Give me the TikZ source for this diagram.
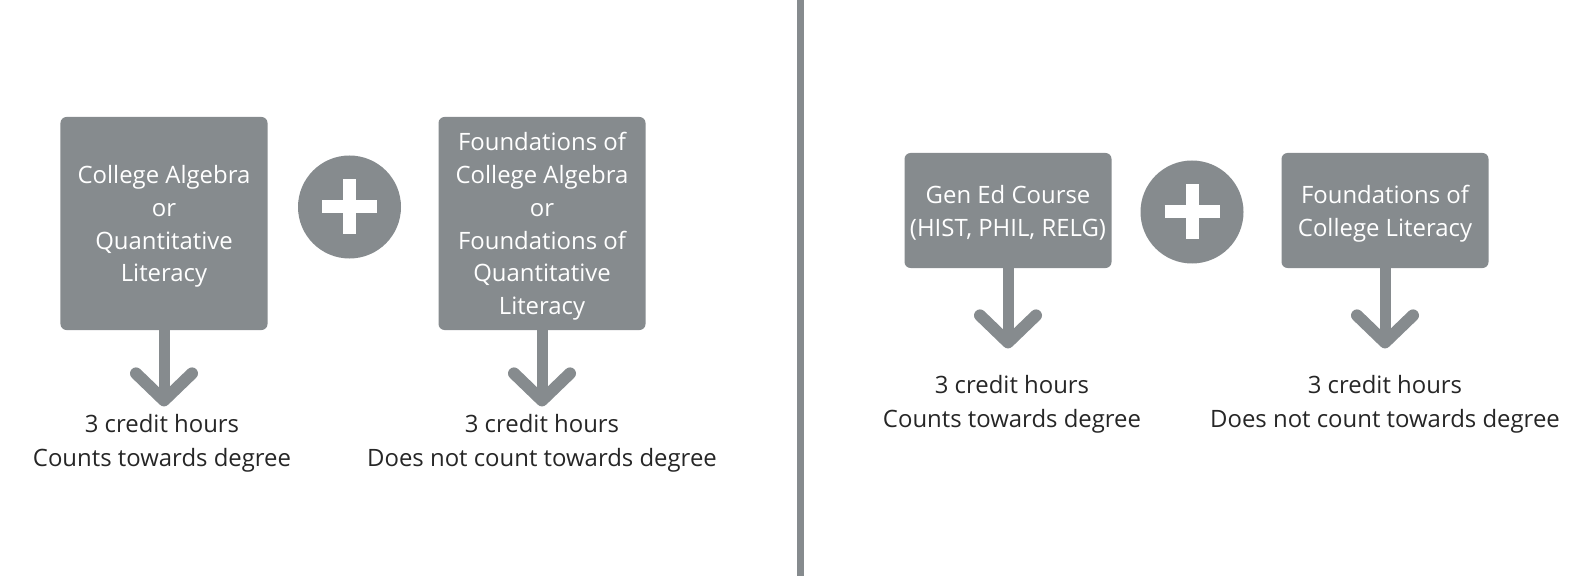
\documentclass[tikz,border=0pt]{standalone}
\usepackage{fontspec}
\setmainfont{Open Sans}
\usepackage{tikz}
\usetikzlibrary{positioning}
\definecolor{slate}{HTML}{868B8E}

\begin{document}
\begin{tikzpicture}[x=0.5bp, y=-0.5bp,
			coursebox/.style={rectangle, rounded corners=3bp, fill=slate, text=white, align=center, minimum width=103.5bp, inner sep=0pt, text depth=0pt, font=\fontsize{12}{16.5}\selectfont},
			plusnode/.style={circle, fill=slate, minimum size=51.5bp, inner sep=0pt},
			note/.style={align=center, text=black!85, font=\fontsize{12}{17}\selectfont},
			stem/.style={draw=slate, line width=5.5bp},
			barb/.style={draw=slate, line width=6bp, line cap=round, line join=round},
			cross/.style={draw=white, line width=6.5bp},
		]
		
			\useasboundingbox (0,0) rectangle (1574,576);
		
			%Divider
			\draw[draw=slate, line width=3.5bp] (800,0) -- (800,576);
		
			%Nodes
			\node[coursebox, minimum height=106.5bp]	(b1) at (164,223.5)		{College Algebra\\or\\Quantitative\\Literacy};
			\node[plusnode]							(p1) at (349.5,207)		{};
			\node[coursebox, minimum height=106.5bp]	(b2) at (542,223.5)		{Foundations of\\College Algebra\\or\\Foundations of\\Quantitative\\Literacy};
			\node[coursebox, minimum height=57.5bp]	(b3) at (1008,210.5)	{Gen Ed Course\\(HIST, PHIL, RELG)};
			\node[plusnode]							(p2) at (1192,212)		{};
			\node[coursebox, minimum height=57.5bp]	(b4) at (1385,210.5)	{Foundations of\\College Literacy};
		
			\node[note]	(n1) at (162,443)	{3 credit hours\\Counts towards degree};
			\node[note]	(n2) at (542,443)	{3 credit hours\\Does not count towards degree};
			\node[note]	(n3) at (1012,404)	{3 credit hours\\Counts towards degree};
			\node[note]	(n4) at (1385,404)	{3 credit hours\\Does not count towards degree};
		
			%Tips
			\coordinate (t1) at ([yshift=-35bp]b1.south);
			\coordinate (t2) at ([yshift=-35bp]b2.south);
			\coordinate (t3) at ([yshift=-37bp]b3.south);
			\coordinate (t4) at ([yshift=-37bp]b4.south);
		
			%Plus signs
			\foreach \p in {p1,p2}
				\draw[cross] (\p.center) +(0,-27.5) -- +(0,27.5) (\p.center) +(-27.5,0) -- +(27.5,0);
		
			%Arrows
			\foreach \b/\t in {b1/t1,b2/t2,b3/t3,b4/t4}{
				\draw[stem] (\b.south) -- (\t);
				\draw[barb] (\t) +(-28,-27) -- (\t) -- +(28,-27);
			}
		
		\end{tikzpicture}
\end{document}
